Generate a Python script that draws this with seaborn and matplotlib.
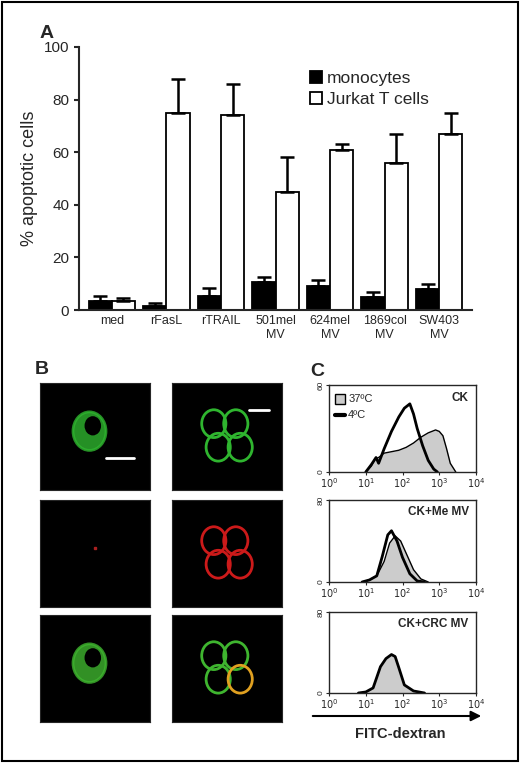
import numpy as np
import pandas as pd
import seaborn as sns
import matplotlib.pyplot as plt
from matplotlib.patches import Ellipse, Rectangle

sns.set_style("ticks")
plt.rcParams['font.family'] = ['Liberation Sans', 'DejaVu Sans']

# panel A data
conditions = ['med', 'rFasL', 'rTRAIL', '501mel\nMV', '624mel\nMV', '1869col\nMV', 'SW403\nMV']
mono = [3.5, 1.5, 5.5, 10.5, 9.0, 5.0, 8.0]
mono_err = [2.0, 1.0, 3.0, 2.0, 2.5, 2.0, 2.0]
jurkat = [3.5, 75.0, 74.0, 45.0, 61.0, 56.0, 67.0]
jurkat_err = [1.0, 13.0, 12.0, 13.0, 2.0, 11.0, 8.0]

# panel C histograms (log10 fluorescence, counts)
ck_37_x = [1.0, 1.15, 1.25, 1.35, 1.5, 1.7, 1.9, 2.1, 2.3, 2.5, 2.7, 2.9, 3.0, 3.1, 3.2, 3.3, 3.45]
ck_37_y = [0, 4, 9, 10, 13, 14, 15, 17, 20, 24, 27, 29, 28, 25, 16, 6, 0]
ck_4_x = [1.0, 1.15, 1.28, 1.35, 1.5, 1.7, 1.9, 2.05, 2.2, 2.3, 2.4, 2.55, 2.7, 2.85, 2.95]
ck_4_y = [0, 5, 10, 6, 16, 28, 38, 44, 47, 40, 30, 18, 8, 2, 0]
me_37_x = [0.9, 1.1, 1.3, 1.5, 1.65, 1.8, 1.95, 2.1, 2.3, 2.5, 2.7]
me_37_y = [0, 2, 6, 20, 38, 45, 40, 28, 12, 3, 0]
me_4_x = [0.9, 1.1, 1.3, 1.45, 1.6, 1.7, 1.85, 2.0, 2.2, 2.4, 2.6]
me_4_y = [0, 2, 6, 25, 46, 50, 40, 24, 8, 1, 0]
crc_x = [0.8, 1.0, 1.2, 1.4, 1.55, 1.7, 1.8, 1.9, 2.05, 2.3, 2.6]
crc_y = [0, 1, 5, 26, 34, 38, 36, 25, 8, 2, 0]

fig = plt.figure(figsize=(5.2, 7.63), dpi=100)
W, H = 520, 763

def rect(x0, y0, x1, y1):
    return [x0 / W, 1 - y1 / H, (x1 - x0) / W, (y1 - y0) / H]

# outer frame
fig.add_artist(Rectangle((0.003, 0.003), 0.994, 0.994, transform=fig.transFigure,
                         fill=False, lw=1.5, color='black'))

# ---- panel A
ax = fig.add_axes(rect(79, 47, 472, 310))
df = pd.DataFrame({'cond': conditions * 2, 'val': mono + jurkat,
                   'cells': ['monocytes'] * 7 + ['Jurkat T cells'] * 7})
sns.barplot(data=df, x='cond', y='val', hue='cells', palette=['black', 'white'],
            edgecolor='black', linewidth=1.3, width=0.85, errorbar=None, ax=ax)
for cont, vals, errs in zip(ax.containers, [mono, jurkat], [mono_err, jurkat_err]):
    xs = [p.get_x() + p.get_width() / 2 for p in cont.patches]
    ax.errorbar(xs, vals, yerr=[[0] * 7, errs], fmt='none', ecolor='black',
                elinewidth=1.8, capsize=5, capthick=1.8)
ax.set_ylim(0, 100)
ax.set_yticks([0, 20, 40, 60, 80, 100])
ax.set_xlim(-0.6, 6.6)
ax.set_ylabel('% apoptotic cells', fontsize=13)
ax.set_xlabel('')
ax.tick_params(axis='x', length=0, labelsize=9)
ax.tick_params(axis='y', labelsize=11, width=1.5)
for s in ['left', 'bottom']:
    ax.spines[s].set_linewidth(1.5)
sns.despine(ax=ax)
ax.legend(loc='upper right', frameon=False, fontsize=12.5, handlelength=0.7,
          handleheight=0.7, handletextpad=0.3, labelspacing=0.35,
          bbox_to_anchor=(0.93, 0.97))
fig.text(40 / W, 1 - 33 / H, 'A', fontsize=14, weight='bold', va='center')

# ---- panel B (micrographs)
fig.text(35 / W, 1 - 370 / H, 'B', fontsize=14, weight='bold', va='center')
cols = [(40, 150), (172, 282)]
rows = [(383, 490), (500, 607), (615, 722)]
rings = {0: [(0.45, 0.55, 0.3, 0.36)], 1: [(0.38, 0.62, 0.22, 0.26), (0.58, 0.62, 0.22, 0.26),
                                            (0.42, 0.4, 0.22, 0.26), (0.62, 0.4, 0.22, 0.26)]}
for r, (y0, y1) in enumerate(rows):
    for c, (x0, x1) in enumerate(cols):
        a = fig.add_axes(rect(x0, y0, x1, y1))
        a.set_facecolor('black')
        a.set_xticks([]); a.set_yticks([])
        a.set_xlim(0, 1); a.set_ylim(0, 1)
        for i, (cx, cy, w, h) in enumerate(rings[c]):
            if r == 0:
                col = '#2fb52f'
            elif r == 1:
                col = '#cc1a1a' if c == 1 else '#551010'
            else:
                col = '#e0a020' if (c == 1 and i == 3) else '#3fb52f'
            if r == 1 and c == 0:
                a.plot([0.5], [0.55], 's', color='#aa2020', ms=2)
                continue
            if c == 0:
                a.add_patch(Ellipse((cx, cy), w, h, fill=True, fc=col, ec=col, lw=2, alpha=0.8))
                a.add_patch(Ellipse((cx + 0.03, cy + 0.05), w * 0.5, h * 0.5, fc='black', ec='none'))
            else:
                a.add_patch(Ellipse((cx, cy), w, h, fill=False, ec=col, lw=2))
        if r == 0:
            x_bar = [0.6, 0.85] if c == 0 else [0.7, 0.88]
            a.plot(x_bar, [0.3, 0.3] if c == 0 else [0.75, 0.75], color='white', lw=2)
fig.text(310 / W, 1 - 372 / H, 'C', fontsize=14, weight='bold', va='center')

# ---- panel C
def hist_ax(box, ymax, label, curves):
    a = fig.add_axes(rect(*box))
    a.set_xscale('log')
    a.set_xlim(1, 1e4)
    a.set_ylim(0, ymax)
    for xs, ys, filled, lw in curves:
        x = 10 ** np.array(xs)
        if filled:
            a.fill_between(x, ys, color='#cccccc', lw=0)
        sns.lineplot(x=x, y=ys, color='black', lw=lw, ax=a)
    a.set_yticks([0, ymax])
    a.set_yticklabels(['0', str(ymax)], rotation=90, va='center', fontsize=6)
    a.set_xticks([1, 10, 100, 1000, 10000])
    a.set_xticklabels(['$10^0$', '$10^1$', '$10^2$', '$10^3$', '$10^4$'], fontsize=7)
    a.tick_params(length=2, pad=1)
    for s in a.spines.values():
        s.set_linewidth(1.0)
    a.text(0.95, 0.82, label, transform=a.transAxes, ha='right', fontsize=8.5, weight='bold')
    return a

c1 = hist_ax((329, 385, 476, 472), 60, 'CK',
             [(ck_37_x, ck_37_y, True, 1.0), (ck_4_x, ck_4_y, False, 2.0)])
c1.add_patch(Rectangle((0.04, 0.78), 0.07, 0.12, transform=c1.transAxes,
                       fc='#cccccc', ec='black', lw=1))
c1.text(0.13, 0.84, '37ºC', transform=c1.transAxes, fontsize=8, va='center')
c1.plot([0.04, 0.11], [0.66, 0.66], transform=c1.transAxes, color='black', lw=3)
c1.text(0.13, 0.66, '4ºC', transform=c1.transAxes, fontsize=8, va='center')
hist_ax((329, 500, 476, 582), 80, 'CK+Me MV',
        [(me_37_x, me_37_y, True, 1.0), (me_4_x, me_4_y, False, 2.0)])
hist_ax((329, 612, 476, 693), 80, 'CK+CRC MV',
        [(crc_x, crc_y, True, 2.0)])
fig.add_artist(plt.Annotation('', xy=(484 / W, 1 - 716 / H), xytext=(310 / W, 1 - 716 / H),
                              xycoords='figure fraction',
                              arrowprops=dict(arrowstyle='-|>', color='black', lw=1.5,
                                              mutation_scale=15)))
fig.text(400 / W, 1 - 734 / H, 'FITC-dextran', fontsize=10.5, weight='bold',
         ha='center', va='center')

fig.savefig('out.png', dpi=100)
